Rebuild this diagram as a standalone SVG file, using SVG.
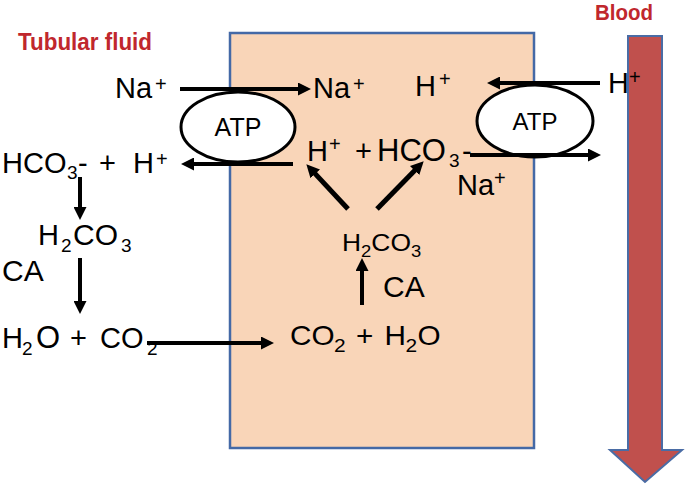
<svg xmlns="http://www.w3.org/2000/svg" width="685" height="484" viewBox="0 0 685 484">
  <defs>
    <style>
      text { font-family: "Liberation Sans", Arial, sans-serif; fill: #000; }
      .lbl { font-weight: bold; fill: #C0272D; }
      .m { font-size: 29px; }
      .sup { font-size: 20px; }
      .sub { font-size: 19px; }
      .conn { stroke: #000; stroke-width: 4; fill: none; marker-end: url(#ah); }
      .pump { fill: #fff; stroke: #000; stroke-width: 3; }
      .atp { font-size: 25px; text-anchor: middle; }
    </style>
    <marker id="ah" markerUnits="userSpaceOnUse" markerWidth="13" markerHeight="13" refX="4" refY="6.5" orient="auto">
      <path d="M0,0 L13,6.5 L0,13 Z" fill="#000"/>
    </marker>
  </defs>

  <rect width="685" height="484" fill="#fff"/>

  <g id="cell">
    <rect x="230" y="33" width="304" height="415" fill="#F9D5B8" stroke="#4469A6" stroke-width="2.5"/>
  </g>

  <g id="blood-arrow">
    <path d="M628,36 L662,36 L662,450 L682,450 L645,482 L610,450 L628,450 Z" fill="#C0504D" stroke="#4A6CA5" stroke-width="2"/>
  </g>

  <g id="pump-left">
    <ellipse class="pump" cx="238" cy="127" rx="57" ry="35"/>
    <text class="atp" x="238" y="136">ATP</text>
  </g>

  <g id="pump-right">
    <ellipse class="pump" cx="535" cy="121" rx="58" ry="36"/>
    <text class="atp" x="535" y="130" style="font-size:24px">ATP</text>
  </g>

  <g id="connectors">
    <line class="conn" x1="180" y1="89" x2="302" y2="89"/>
    <line class="conn" x1="293" y1="164" x2="190" y2="164"/>
    <line class="conn" x1="600" y1="83" x2="496" y2="83"/>
    <line class="conn" x1="470" y1="155" x2="592" y2="155"/>
    <line class="conn" x1="80" y1="177" x2="80" y2="211"/>
    <line class="conn" x1="80" y1="258" x2="80" y2="305"/>
    <line class="conn" x1="147" y1="343" x2="265" y2="343"/>
    <line class="conn" x1="362" y1="305" x2="362" y2="267"/>
    <line class="conn" x1="348" y1="209" x2="312.5" y2="170.9" style="stroke-width:5"/>
    <line class="conn" x1="377" y1="209" x2="417.4" y2="167.7" style="stroke-width:5"/>
  </g>

  <g id="label-tubular">
    <text class="lbl" x="18" y="50" font-size="24" textLength="134" lengthAdjust="spacingAndGlyphs">Tubular fluid</text>
  </g>
  <g id="label-blood">
    <text class="lbl" x="595" y="20" font-size="22" textLength="58" lengthAdjust="spacingAndGlyphs">Blood</text>
  </g>

  <g id="na-lumen">
    <text class="m" x="115" y="98">Na<tspan class="sup" dx="3" dy="-7">+</tspan></text>
  </g>
  <g id="na-cell">
    <text class="m" x="313" y="98">Na<tspan class="sup" dx="3" dy="-7">+</tspan></text>
  </g>
  <g id="h-cell-top">
    <text class="m" x="415" y="96">H<tspan class="sup" dx="3" dy="-10">+</tspan></text>
  </g>
  <g id="h-blood">
    <text class="m" x="608" y="93">H<tspan class="sup" dx="0" dy="-9">+</tspan></text>
  </g>
  <g id="hco3-lumen">
    <text class="m" y="173"><tspan x="2">HCO</tspan><tspan class="sub" x="67" dy="6">3</tspan><tspan x="78" dy="-6">-</tspan><tspan x="99">+</tspan><tspan x="133">H</tspan><tspan class="sup" x="156" dy="-7">+</tspan></text>
  </g>
  <g id="h-cell-mid">
    <text class="m" x="307" y="161">H<tspan class="sup" dx="1" dy="-10">+</tspan></text>
  </g>
  <g id="hco3-cell">
    <text class="m" y="161"><tspan x="355">+</tspan><tspan x="377" style="font-size:31px">HCO</tspan><tspan class="sub" x="449" dy="6">3</tspan><tspan x="462" dy="-6">-</tspan></text>
  </g>
  <g id="na-blood">
    <text class="m" x="457" y="195">Na<tspan class="sup" dx="0" dy="-10">+</tspan></text>
  </g>
  <g id="h2co3-lumen">
    <text class="m" y="245"><tspan x="38">H</tspan><tspan class="sub" x="61" dy="7">2</tspan><tspan x="73" dy="-7" style="font-size:30px">CO</tspan><tspan class="sub" x="121" dy="7">3</tspan></text>
  </g>
  <g id="ca-lumen">
    <text x="2" y="281" style="font-size:30px">CA</text>
  </g>
  <g id="h2o-co2-lumen">
    <text class="m" y="348"><tspan x="2">H</tspan><tspan class="sub" x="22" dy="7">2</tspan><tspan x="36" dy="-7" style="font-size:31px">O</tspan><tspan x="70">+</tspan><tspan x="100">CO</tspan><tspan class="sub" x="147" dy="7">2</tspan></text>
  </g>
  <g id="h2co3-cell">
    <text transform="translate(342,251) scale(1.15,1)" style="font-size:23px">H<tspan style="font-size:16px" dy="6">2</tspan><tspan dy="-6">CO</tspan><tspan style="font-size:16px" dy="6">3</tspan></text>
  </g>
  <g id="ca-cell">
    <text x="383" y="297" style="font-size:30px">CA</text>
  </g>
  <g id="co2-h2o-cell">
    <text transform="translate(290,345) scale(1.1,1)" style="font-size:27px"><tspan x="0">CO</tspan><tspan x="40" dy="7" style="font-size:19px">2</tspan><tspan x="60" dy="-7">+</tspan><tspan x="86">H</tspan><tspan x="105" dy="7" style="font-size:19px">2</tspan><tspan x="116" dy="-7">O</tspan></text>
  </g>
</svg>
